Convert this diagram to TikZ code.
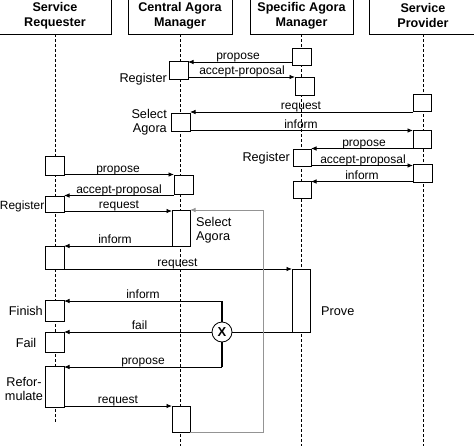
\documentclass[tikz,border=0pt]{standalone}
\usepackage{fontspec}
\setmainfont{Liberation Sans}
\usetikzlibrary{arrows.meta}
\newcommand\msgarrow[5]{%
  \draw[msg] (#1 |- 0,#3) -- (#2 |- 0,#3);
  \node[lbl] at (#5,#3-2.5) {#4};}
\begin{document}
\begin{tikzpicture}[x=1pt,y=-1pt,
  hdr/.style={draw, line width=0.8pt, fill=white, inner sep=0pt, outer sep=0pt,
    minimum height=37, align=center,
    font=\fontsize{12.6}{15}\selectfont\bfseries},
  life/.style={line width=0.8pt, dash pattern=on 3pt off 2pt},
  act/.style={draw, fill=white, line width=0.8pt, inner sep=0pt, outer sep=0pt, anchor=north west},
  msg/.style={line width=0.8pt, -{Latex[length=5.5pt,width=4.5pt]}},
  lbl/.style={anchor=base, inner sep=0pt, font=\fontsize{12}{14}\selectfont},
  sidelbl/.style={inner sep=0pt, font=\fontsize{12.7}{14.5}\selectfont},
  grayline/.style={line width=0.8pt, draw=black!42}
]
\useasboundingbox (0,0) rectangle (474,445);

% headers
\node[hdr, minimum width=112, anchor=south] (sr)  at (55,34)  {Service\\Requester};
\node[hdr, minimum width=104, anchor=south] (cam) at (180,34) {Central Agora\\Manager};
\node[hdr, minimum width=103, anchor=south] (sam) at (301.5,34) {Specific Agora\\Manager};
\node[hdr, minimum width=108, anchor=south] (sp)  at (423,34) {Service\\Provider};

% lifelines
\draw[life] (sr.south)  -- ++(0,389);
\draw[life] (cam.south) -- ++(0,415);
\draw[life] (sam.south) -- ++(0,415);
\draw[life] (sp.south)  -- ++(0,415);

% activation boxes
\node[act, minimum width=19, minimum height=17] (sam1) at (292,48) {};
\node[act, minimum width=19, minimum height=18] (cam1) at (169,61) {};
\node[act, minimum width=19, minimum height=18] (sam2) at (295,77) {};
\node[act, minimum width=19, minimum height=18] (cam2) at (171,113) {};
\node[act, minimum width=18, minimum height=17] (sp1)  at (413,94) {};
\node[act, minimum width=18, minimum height=18] (sp2)  at (413,130) {};
\node[act, minimum width=18, minimum height=17] (sam3) at (293,149) {};
\node[act, minimum width=19, minimum height=18] (sp3)  at (413,164) {};
\node[act, minimum width=18, minimum height=17] (sam4) at (293,181) {};
\node[act, minimum width=19, minimum height=19] (sr1)  at (45,156) {};
\node[act, minimum width=19, minimum height=19] (cam3) at (174,175) {};
\node[act, minimum width=19, minimum height=16] (sr2)  at (45,196) {};
\node[act, minimum width=18, minimum height=36] (cam4) at (172,210) {};
\node[act, minimum width=19, minimum height=23] (sr3)  at (45,246) {};
\node[act, minimum width=18, minimum height=63] (sam5) at (292,269) {};
\node[act, minimum width=19, minimum height=21] (sr4)  at (45,300) {};
\node[act, minimum width=19, minimum height=20] (sr5)  at (45,332) {};
\node[act, minimum width=19, minimum height=41] (sr6)  at (45,366) {};
\node[act, minimum width=18, minimum height=26] (cam5) at (172,406) {};

% side labels
\node[sidelbl, anchor=base east] (lreg1) at (167,82) {Register};
\node[sidelbl, anchor=east, align=right] (lsel1) at (167,122) {Select\\Agora};
\node[sidelbl, anchor=base east] (lreg2) at (290,161) {Register};
\node[sidelbl, anchor=base east, font=\fontsize{11.9}{14}\selectfont] (lreg3) at (44.5,209) {Register};
\node[sidelbl, anchor=west, align=left] (lsel2) at (196,230) {Select\\Agora};
\node[sidelbl, anchor=base west] (lprove) at (321,315) {Prove};
\node[sidelbl, anchor=base east] (lfin) at (43,315) {Finish};
\node[sidelbl, anchor=base] (lfail) at (26,347) {Fail};
\node[sidelbl, align=center] (lref) at (24,389) {Refor-\\mulate};

% messages
\msgarrow{sam1.west}{cam1.east}{62}{propose}{238}
\msgarrow{cam1.east}{sam2.west}{77}{accept-proposal}{242}
\msgarrow{sp1.west}{cam2.east}{112}{request}{301}
\msgarrow{cam2.east}{sp2.west}{130.5}{inform}{301}
\msgarrow{sp2.west}{sam3.east}{148.5}{propose}{364}
\msgarrow{sam3.east}{sp3.west}{165.5}{accept-proposal}{363}
\msgarrow{sp3.west}{sam4.east}{181.5}{inform}{362}
\msgarrow{sr1.east}{cam3.west}{174.5}{propose}{118}
\msgarrow{cam3.west}{sr2.east}{195.5}{accept-proposal}{119}
\msgarrow{sr2.east}{cam4.west}{211}{request}{119}
\msgarrow{cam4.west}{sr3.east}{246}{inform}{115}
\msgarrow{sr3.east}{sam5.west}{269}{request}{177.5}
\msgarrow{sam5.west}{sr5.east}{332}{fail}{139.5}

% decision bar
\coordinate (t1) at (222,301);
\coordinate (t2) at (222,367);
\draw[msg] (t1) -- (sr4.east |- t1);
\node[lbl] at (143,298.5) {inform};
\draw[msg] (t2) -- (sr6.east |- t2);
\node[lbl] at (143,364.5) {propose};
\draw[line width=2.8pt] (t1) -- (t2);
\node[circle, draw, fill=white, line width=0.8pt, minimum size=20, inner sep=0pt,
  font=\fontsize{13}{13}\selectfont\bfseries] (xnode) at (222,332) {X};

\msgarrow{sr6.east}{cam5.west}{406}{request}{118}

% gray loop
\coordinate (g) at (263,0);
\draw[grayline, -{Latex[length=5.5pt,width=4.5pt]}] (cam5.south east) -- (g |- cam5.south east) -- (g |- cam4.north east) -- (cam4.north east);
\end{tikzpicture}
\end{document}
